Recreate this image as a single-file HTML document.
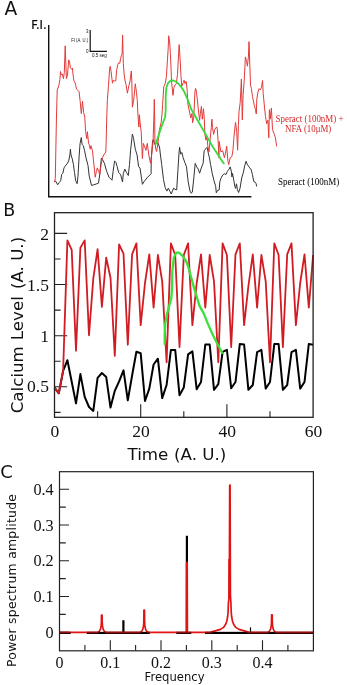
<!DOCTYPE html>
<html><head><meta charset="utf-8"><title>Figure</title>
<style>html,body{margin:0;padding:0;background:#fff;}svg{display:block;}</style>
</head><body>
<svg width="347" height="685" viewBox="0 0 347 685">
<rect width="347" height="685" fill="#fff"/>
<text x="4.6" y="14.8" font-family="DejaVu Sans, sans-serif" font-size="18.6" fill="#111">A</text>
<text x="31.2" y="28.8" font-family="DejaVu Sans, sans-serif" font-size="11.4" fill="#000" stroke="#000" stroke-width="0.2">F.I.</text>
<g fill="none" stroke-linejoin="round" stroke-linecap="round">
<polyline points="54.4,181.3 55.8,181.3 57.6,184.8 59.3,182.5 60.7,180.7 61.7,174.3 62.9,173.2 64.0,167.9 65.2,166.1 67.5,163.2 68.7,160.9 69.9,155.0 70.4,149.2 71.0,155.0 72.2,158.6 73.4,164.4 74.5,172.6 75.7,180.7 77.1,183.7 78.0,176.1 79.2,155.0 80.1,143.4 81.3,137.5 82.1,144.5 83.3,145.7 84.5,150.4 86.2,158.6 88.0,165.5 89.2,176.1 91.5,185.4 93.8,184.8 96.2,184.0 98.5,183.1 99.7,174.9 101.4,158.0 102.6,159.7 104.4,163.2 106.7,171.4 109.0,177.2 112.0,180.2 113.1,171.4 114.6,160.9 116.0,162.6 117.2,166.7 118.6,172.6 119.8,173.7 120.7,174.9 122.5,181.9 123.3,173.7 124.8,169.1 126.6,172.6 128.3,175.5 129.5,164.4 130.7,149.2 132.4,134.0 133.6,138.7 135.3,149.2 137.1,155.0 138.6,166.7 140.0,167.9 141.2,176.1 142.4,184.3 144.7,180.7 147.6,177.2 151.1,173.7 151.2,160.0 152.6,140.5 153.5,139.6 154.5,144.3 156.4,142.4 158.3,143.4 159.7,148.1 160.2,153.0 161.7,164.6 163.5,179.6 165.2,187.6 166.9,191.1 168.3,188.2 169.8,191.1 171.3,194.0 172.4,191.1 173.6,188.2 175.0,189.4 176.7,189.9 177.9,170.3 179.0,153.0 179.6,147.3 180.7,154.2 181.9,152.5 183.1,157.7 184.8,162.3 186.5,166.9 188.2,181.9 190.0,191.1 191.1,193.2 192.3,192.2 194.0,176.1 195.2,163.4 196.7,166.9 198.3,169.2 199.6,173.2 201.3,168.0 203.1,163.4 204.2,150.7 206.0,148.4 207.1,147.3 208.3,153.1 209.4,157.7 210.6,164.6 212.3,173.8 214.0,180.7 215.7,186.5 216.3,192.8 217.5,190.5 219.2,189.9 219.8,181.9 220.9,178.4 222.7,175.0 224.4,173.8 226.1,174.4 227.3,171.5 229.0,169.2 230.2,166.9 231.3,171.1 231.9,176.9 232.5,173.4 233.6,179.2 234.8,186.1 235.6,188.4 236.5,183.8 237.4,189.6 238.6,192.5 240.0,188.4 241.7,178.0 243.4,172.3 244.8,165.4 246.0,161.3 247.5,164.8 249.2,167.1 251.3,170.0 252.4,174.6 253.8,181.5 255.0,182.1 255.9,183.2 256.7,186.1" stroke="#333" stroke-width="1"/>
<polyline points="54.7,181.9 55.3,178.4 56.4,120.0 57.2,90.2 58.8,85.6 59.9,79.7 60.5,71.5 61.3,75.0 62.3,73.9 63.4,78.6 64.3,72.7 65.2,45.8 66.4,78.6 67.5,75.0 68.7,59.9 69.6,62.2 70.4,68.0 71.6,69.2 72.4,68.0 73.1,75.0 73.9,80.9 74.9,82.1 75.7,85.6 76.6,89.1 77.8,90.2 79.0,91.4 80.1,100.7 81.3,113.6 82.5,101.3 83.6,112.4 84.8,117.1 85.6,131.7 86.8,138.7 87.4,131.7 88.6,143.4 89.2,144.5 90.3,149.2 90.9,145.7 92.4,150.4 93.3,158.6 94.4,169.1 95.2,177.2 96.4,171.4 97.3,167.9 98.7,171.4 99.7,174.9 101.1,164.4 102.6,157.4 104.4,153.9 105.8,152.1 106.1,143.4 106.7,120.0 107.3,100.7 108.4,86.7 109.6,69.2 110.2,66.3 111.1,71.5 111.9,78.6 112.5,83.2 113.1,80.3 114.3,80.9 115.8,80.9 116.6,70.4 117.8,64.5 118.7,62.8 119.8,63.4 120.5,58.7 121.3,55.8 122.1,54.0 122.6,35.0 123.3,63.4 124.2,75.0 125.1,80.9 126.0,84.4 127.4,93.2 128.9,85.6 130.1,80.9 131.3,71.0 131.8,80.9 132.4,107.2 133.6,100.7 134.8,89.1 135.3,83.8 136.5,92.6 137.3,100.7 137.7,110.1 138.3,120.0 138.9,127.0 139.4,114.8 139.8,120.0 141.2,131.7 142.4,158.6 143.3,143.4 144.7,146.9 145.9,150.4 147.3,143.4 148.8,155.0 150.5,163.2 151.9,152.7 153.1,139.9 153.8,120.0 154.3,99.3 154.7,120.0 154.9,142.2 155.8,149.2 156.6,151.5 158.0,143.0 159.2,131.0 161.1,122.6 162.0,113.9 162.6,104.5 163.8,86.7 165.2,83.7 166.4,76.7 167.5,59.2 168.1,49.9 168.7,35.8 169.6,41.7 170.4,53.4 171.4,76.7 171.7,83.2 173.0,95.4 173.9,87.5 175.1,84.9 176.3,83.7 177.5,74.4 178.6,53.4 179.2,44.6 180.1,59.2 181.0,76.7 181.8,86.1 183.3,82.6 184.1,80.2 185.0,83.7 186.2,81.4 187.1,89.6 187.9,104.0 189.1,109.9 190.8,118.0 192.0,113.4 192.6,122.7 193.8,116.9 194.9,92.3 195.5,88.4 196.1,90.0 196.7,94.3 197.3,99.3 198.4,109.9 199.6,120.4 200.4,113.4 201.4,106.4 202.3,119.2 203.5,108.7 204.3,119.2 204.9,134.4 206.0,140.2 207.0,136.7 207.8,146.1 209.0,151.9 210.1,139.1 211.3,127.4 211.9,119.2 212.5,127.4 213.6,134.4 214.8,129.7 216.0,127.4 217.1,127.4 218.3,143.7 218.9,157.8 219.2,141.5 220.9,151.9 222.7,150.7 224.4,157.7 225.5,153.1 226.7,146.1 227.9,161.1 228.7,164.6 230.2,157.7 231.9,156.5 233.0,149.6 233.8,138.6 235.5,122.2 236.7,131.5 237.6,150.2 238.4,125.7 239.0,111.7 240.2,102.4 241.4,79.1 242.3,119.9 243.1,95.4 244.3,79.1 245.4,56.9 246.6,61.5 247.4,66.2 248.4,56.9 249.0,41.7 249.8,65.0 250.5,84.9 251.3,88.4 252.5,96.6 254.2,104.8 255.4,109.3 256.3,114.0 256.8,99.2 257.9,92.2 259.1,88.7 260.3,89.9 261.4,87.5 262.6,80.5 263.2,93.4 264.3,105.0 265.5,116.7 266.7,123.7 267.9,120.2 268.8,137.8 269.4,109.7 270.2,119.1 271.4,108.0 272.5,129.6 274.3,134.3 275.4,137.8 276.6,145.9" stroke="#e23a3a" stroke-width="1"/>
<polyline points="155.6,144.4 156.8,140.9 160.3,130.1 162.9,122.6 165.1,117.4 165.7,109.5 165.7,96.3 166.4,87.5 168.2,82.7 170.8,80.5 173.4,80.5 176.1,81.8 178.7,84.0 181.3,87.1 183.9,91.1 187.4,98.9 189.7,104.8 191.2,109.3 194.3,114.5 199.0,122.7 203.7,130.9 208.4,139.1 213.0,147.2 217.7,154.3 221.5,160.2 223.8,163.4" stroke="#3ad83a" stroke-width="1.8"/>
</g>
<path d="M48.7 24.9V197.4M48 196.7H251.4" stroke="#111" stroke-width="1.4" fill="none"/>
<path d="M90.2 30.1V51.4H106.9" stroke="#111" stroke-width="1.2" fill="none"/>
<g font-family="Liberation Sans, sans-serif" font-size="4.5" fill="#111">
<text x="86" y="33.2">3</text><text x="86" y="53.2">0</text>
<text x="71.2" y="42.3" textLength="17" lengthAdjust="spacingAndGlyphs">FI (A. U.)</text><text x="91.9" y="56.9" textLength="14.8" lengthAdjust="spacingAndGlyphs">0.5 seg</text>
</g>
<g font-family="Liberation Serif, serif" font-size="10">
<text x="275.5" y="122.4" fill="#d42a2a" textLength="68" lengthAdjust="spacingAndGlyphs">Speract (100nM) +</text>
<text x="285.1" y="131.6" fill="#d42a2a" textLength="46.2" lengthAdjust="spacingAndGlyphs">NFA (10μM)</text>
<text x="278.1" y="185.0" fill="#000" textLength="61.2" lengthAdjust="spacingAndGlyphs">Speract (100nM)</text>
</g>
<text x="3.2" y="215.6" font-family="DejaVu Sans, sans-serif" font-size="17.5" fill="#111">B</text>
<path d="M54.5 233.4h12.7 M54.5 259.0h6.1 M54.5 284.5h12.7 M54.5 310.1h6.1 M54.5 335.7h12.7 M54.5 361.2h6.1 M54.5 386.8h12.7 M54.5 412.4h6.1 M97.6 417.2v-6 M140.7 417.2v-13 M183.8 417.2v-6 M226.9 417.2v-13 M270.0 417.2v-6" stroke="#222" stroke-width="1.1" fill="none"/>
<g fill="none" stroke-linejoin="round">
<polyline points="54.5,387.6 58.8,393.3 63.1,371.0 67.4,360.2 71.7,381.8 76.0,403.4 80.4,374.1 84.7,396.9 89.0,407.0 93.3,410.9 97.6,377.8 101.9,373.0 106.2,376.9 110.5,407.6 114.8,390.8 119.1,381.3 123.5,370.4 127.8,400.3 132.1,375.5 136.4,351.8 140.7,353.3 145.0,401.0 149.3,388.6 153.6,364.5 157.9,358.7 162.2,398.1 166.6,385.0 170.9,349.9 175.2,349.9 179.5,395.2 183.8,387.4 188.1,354.3 192.4,351.4 196.7,389.3 201.0,382.0 205.3,344.5 209.7,344.5 214.0,389.8 218.3,384.2 222.6,351.8 226.9,349.9 231.2,388.3 235.5,382.0 239.8,344.1 244.1,344.5 248.4,389.8 252.8,385.0 257.1,352.1 261.4,349.9 265.7,388.6 270.0,382.0 274.3,344.1 278.6,344.1 282.9,389.8 287.2,385.0 291.5,352.1 295.9,349.9 300.2,388.6 304.5,382.0 308.8,344.1 313.1,344.8" stroke="#000" stroke-width="2.0"/>
<polyline points="54.5,387.6 58.8,393.3 63.1,371.0 67.4,240.4 71.7,249.9 76.0,350.7 80.4,247.7 84.7,240.4 89.0,335.3 93.3,278.4 97.6,249.2 101.9,306.9 106.2,257.7 110.5,277.7 114.8,355.8 119.1,244.5 123.5,253.6 127.8,344.8 132.1,254.3 136.4,243.4 140.7,325.1 145.0,283.0 149.3,254.3 153.6,307.6 157.9,255.0 162.2,281.3 166.6,362.3 170.9,243.4 175.2,255.0 179.5,347.0 183.8,255.0 188.1,243.4 192.4,325.1 196.7,283.0 201.0,254.3 205.3,307.6 209.7,255.0 214.0,281.3 218.3,362.3 222.6,243.4 226.9,255.0 231.2,347.0 235.5,254.3 239.8,243.4 244.1,325.1 248.4,286.0 252.8,254.3 257.1,307.6 261.4,255.0 265.7,281.3 270.0,362.3 274.3,243.4 278.6,255.0 282.9,347.0 287.2,254.3 291.5,243.4 295.9,325.1 300.2,283.0 304.5,254.3 308.8,307.6 313.1,255.0" stroke="#d01c22" stroke-width="1.8"/>
<polyline points="164.7,344.0 164.7,333.8 165.2,323.6 166.7,315.4 168.8,307.2 171.3,298.1 172.0,289.0 172.3,271.5 173.8,257.5 176.4,252.6 179.0,252.6 182.5,255.8 186.0,261.0 188.2,266.5 190.5,275.0 193.9,287.4 195.5,292.8 199.6,306.1 203.6,313.1 207.7,323.4 212.3,333.8 216.9,343.0 220.9,350.5 222.1,352.8" stroke="#3be03b" stroke-width="2.3" stroke-linecap="round"/>
</g>
<rect x="54.5" y="212.7" width="258.6" height="204.6" fill="none" stroke="#222" stroke-width="1.3"/>
<g font-family="Liberation Serif, serif" font-size="17.5" fill="#111" text-anchor="end">
<text x="48.9" y="239.7">2</text>
<text x="48.9" y="290.5">1.5</text>
<text x="48.9" y="342.0">1</text>
<text x="48.9" y="391.7">0.5</text>
</g>
<g font-family="Liberation Serif, serif" font-size="17.5" fill="#111" text-anchor="middle">
<text x="54.8" y="436.7">0</text>
<text x="141.0" y="436.7">20</text>
<text x="227.2" y="436.7">40</text>
<text x="313.4" y="436.7">60</text>
</g>
<g font-family="DejaVu Sans, sans-serif" font-size="16.7" fill="#111">
<text transform="translate(22.7,413.3) rotate(-90)">Calcium</text>
<text transform="translate(22.7,340.2) rotate(-90)">Level</text>
<text transform="translate(22.7,289.1) rotate(-90)">(A. U.)</text>
<text x="127.5" y="460.1">Time</text><text x="174" y="460.1">(A. U.)</text>
</g>
<text x="0.2" y="477.6" font-family="DejaVu Sans, sans-serif" font-size="18" fill="#111">C</text>
<path d="M59.5 632.3h9.5 M59.5 614.4h6.3 M59.5 596.5h9.5 M59.5 578.6h6.3 M59.5 560.8h9.5 M59.5 542.9h6.3 M59.5 525.0h9.5 M59.5 507.1h6.3 M59.5 489.2h9.5 M84.9 650.8v-5.8 M110.3 650.8v-10.6 M135.6 650.8v-5.8 M161.0 650.8v-10.6 M186.4 650.8v-5.8 M211.8 650.8v-10.6 M237.2 650.8v-5.8 M262.5 650.8v-10.6 M287.9 650.8v-5.8" stroke="#222" stroke-width="1.1" fill="none"/>
<g fill="none" stroke-linejoin="round">
<path d="M59.5 633.0H70.7 M86.8 633.0H149.8 M176.3 633.0H191.3 M205 633.0H313 M123.4 633.0V620.3 M186.9 633.0V535.8" stroke="#000" stroke-width="2.2"/>
<path d="M250.5 633.0V627.3" stroke="#111" stroke-width="1.2"/>
<polyline points="59.5,632.4 97.3,632.4 99.2,631.4 100.4,629.4 101.1,625.9 101.4,622.4 101.5,615.0 102.1,615.0 102.2,622.4 102.5,625.9 103.2,629.4 104.4,631.4 106.3,632.4 139.7,632.4 141.6,631.4 142.8,629.4 143.5,625.9 143.8,622.4 143.9,610.2 144.5,610.2 144.6,622.4 144.9,625.9 145.6,629.4 146.8,631.4 148.7,632.4 186.4,632.4 186.6,562.5 187.2,562.5 187.4,632.4 210.0,632.4 216.0,630.6 220.5,629.4 223.5,627.4 225.5,624.6 226.8,621.2 227.6,617.0 228.1,612.0 228.4,603.0 229.3,595.0 229.7,485.0 230.1,485.0 230.4,595.0 230.9,603.0 231.2,612.0 231.7,617.0 232.5,621.2 233.8,624.6 235.8,627.4 239.0,629.4 243.5,630.6 249.0,632.4 267.4,632.4 269.3,631.4 270.5,629.4 271.2,625.9 271.5,622.4 271.6,614.8 272.2,614.8 272.3,622.4 272.6,625.9 273.3,629.4 274.5,631.4 276.4,632.4 313.0,632.4" stroke="#e01414" stroke-width="1.7"/>
<path d="M228.9 598L229.1 559" stroke="#e01414" stroke-width="1.6"/>
<path d="M59.5 632.6H70.7 M86.8 632.6H149.8 M176.3 632.6H191.3 M205 632.6H313" stroke="#000" stroke-opacity="0.35" stroke-width="2"/>
</g>
<rect x="59.5" y="471.7" width="253.9" height="179.1" fill="none" stroke="#222" stroke-width="1.2"/>
<g font-family="Liberation Serif, serif" font-size="16.2" fill="#111" text-anchor="end">
<text x="53.7" y="637.8">0</text>
<text x="53.7" y="602.0">0.1</text>
<text x="53.7" y="566.2">0.2</text>
<text x="53.7" y="530.5">0.3</text>
<text x="53.7" y="494.7">0.4</text>
</g>
<g font-family="Liberation Serif, serif" font-size="16" fill="#111" text-anchor="middle">
<text x="59.5" y="667.6">0</text>
<text x="110.3" y="667.6">0.1</text>
<text x="161.0" y="667.6">0.2</text>
<text x="211.8" y="667.6">0.3</text>
<text x="262.5" y="667.6">0.4</text>
</g>
<text transform="translate(16.2,667) rotate(-90)" font-family="DejaVu Sans, sans-serif" font-size="12.4" textLength="173" fill="#111">Power spectrum amplitude</text>
<text x="144.6" y="680.8" font-family="DejaVu Sans, sans-serif" font-size="11.6" fill="#111">Frequency</text>
</svg>
</body></html>
